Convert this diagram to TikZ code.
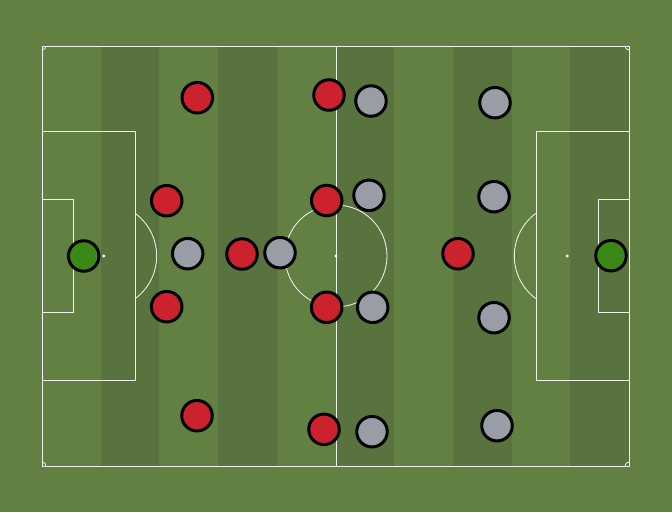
\documentclass[tikz,border=0pt]{standalone}
\usetikzlibrary{shadows}
\definecolor{grassL}{HTML}{628042}
\definecolor{grassD}{HTML}{58733D}
\definecolor{pred}{HTML}{CC222E}
\definecolor{pgray}{HTML}{989DA6}
\definecolor{pgreen}{HTML}{3A8916}
\tikzset{
  pline/.style={draw=white, opacity=0.9, line width=0.85pt},
  spot/.style={circle, fill=white, inner sep=0pt, minimum size=3.2pt},
  player/.style={circle, draw=black, line width=3pt, inner sep=0pt, minimum size=30.5pt,
     drop shadow={opacity=0.3, shadow xshift=1.2pt, shadow yshift=-1.2pt}},
  redp/.style={player, fill=pred},
  grayp/.style={player, fill=pgray},
  keeper/.style={player, fill=pgreen},
}
\begin{document}
\begin{tikzpicture}[x=1pt,y=-1pt]
\useasboundingbox (0,0) rectangle (672,512);
\fill[grassL] (0,0) rectangle (672,512);
\foreach \i in {1,3,5,7,9}
  \fill[grassD] ({42+\i*58.7},46) rectangle ({42+(\i+1)*58.7},466);
% pitch outline and halfway line
\draw[pline] (42,46) rectangle (629,466);
\draw[pline] (336,46) -- (336,466);
\draw[pline] (336,256) circle (51);
% penalty and goal areas
\draw[pline] (42,131) rectangle (135.7,380);
\draw[pline] (42,199.3) rectangle (73,312);
\draw[pline] (536,131) rectangle (629,380);
\draw[pline] (598.3,199.3) rectangle (629,312);
% penalty arcs
\begin{scope}
  \clip (135.7,0) rectangle (300,512);
  \draw[pline] (103.7,256) circle (53);
\end{scope}
\begin{scope}
  \clip (372,0) rectangle (536,512);
  \draw[pline] (567.3,256) circle (53);
\end{scope}
% corner arcs
\begin{scope}
  \clip (42,46) rectangle (629,466);
  \foreach \cx/\cy in {42/46,629/46,42/466,629/466}
    \draw[pline] (\cx,\cy) circle (4);
\end{scope}
% spots
\node[spot] (cs) at (336,256) {};
\node[spot] (ps1) at (103.7,256) {};
\node[spot] (ps2) at (567.3,256) {};
% keepers
\node[keeper] (k1) at (83.7,256) {};
\node[keeper] (k2) at (611,255.7) {};
% red team
\node[redp] (r1) at (197.3,97.7) {};
\node[redp] (r2) at (329,95) {};
\node[redp] (r3) at (166.7,200.7) {};
\node[redp] (r4) at (326.7,200.5) {};
\node[redp] (r5) at (242,254) {};
\node[redp] (r6) at (166.7,306.7) {};
\node[redp] (r7) at (326.7,307.3) {};
\node[redp] (r8) at (197,415.7) {};
\node[redp] (r9) at (324,429.3) {};
\node[redp] (r10) at (458,253.7) {};
% gray team
\node[grayp] (g1) at (371,101) {};
\node[grayp] (g2) at (495,102.7) {};
\node[grayp] (g3) at (369,195.3) {};
\node[grayp] (g4) at (494,196.7) {};
\node[grayp] (g5) at (187.7,253.7) {};
\node[grayp] (g6) at (280,252.7) {};
\node[grayp] (g7) at (372.7,307.3) {};
\node[grayp] (g8) at (494,317.7) {};
\node[grayp] (g9) at (372,431.7) {};
\node[grayp] (g10) at (497,425.7) {};
\end{tikzpicture}
\end{document}
